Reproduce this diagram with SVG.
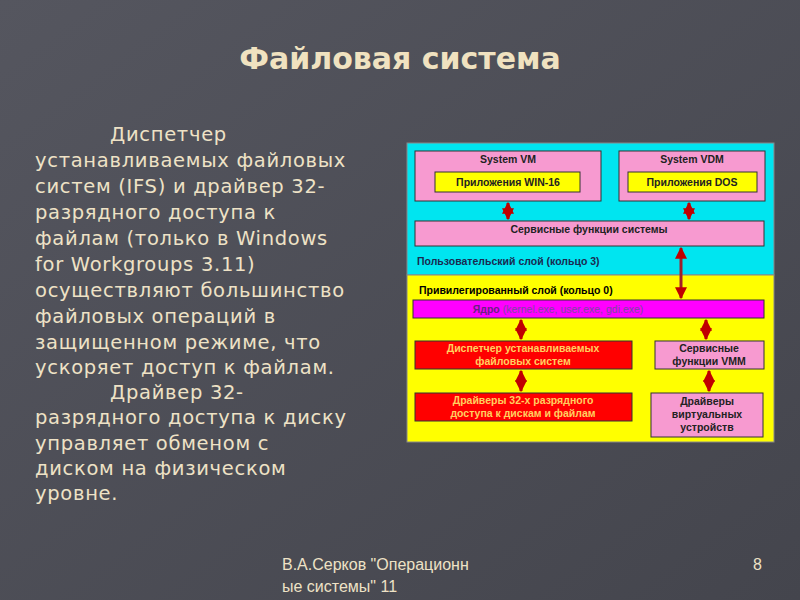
<svg xmlns="http://www.w3.org/2000/svg" width="800" height="600" viewBox="0 0 800 600">
<defs>
<linearGradient id="bg" x1="0" y1="0" x2="1" y2="1"><stop offset="0" stop-color="#55565f"/><stop offset="1" stop-color="#44454d"/></linearGradient>
<marker id="ah" viewBox="0 0 10 10" refX="9" refY="5" markerWidth="4" markerHeight="4" orient="auto-start-reverse"><path d="M0,0L10,5L0,10z" fill="#c00000"/></marker>
</defs>
<style>
.t{font-family:"DejaVu Sans",Verdana,sans-serif;fill:#eee2c6}
.b{font-family:"Liberation Sans",Arial,sans-serif;font-weight:bold;font-size:10.5px;text-anchor:middle}
.s{text-anchor:start}
.bx{stroke:#333;stroke-width:1}
.c{stroke:#c00000;stroke-width:3;marker-start:url(#ah);marker-end:url(#ah)}
</style>
<rect width="800" height="600" fill="url(#bg)"/>
<text class="t" x="400" y="69" font-size="30" font-weight="bold" text-anchor="middle" style="fill:#f0e2c0">Файловая система</text>
<g class="t" font-size="19.5" letter-spacing="0.7">
<text x="110" y="141">Диспетчер</text>
<text x="35" y="167">устанавливаемых файловых</text>
<text x="35" y="193">систем (IFS) и драйвер 32-</text>
<text x="35" y="219">разрядного доступа к</text>
<text x="35" y="245">файлам (только в Windows</text>
<text x="35" y="271">for Workgroups 3.11)</text>
<text x="35" y="297">осуществляют большинство</text>
<text x="35" y="323">файловых операций в</text>
<text x="35" y="349">защищенном режиме, что</text>
<text x="35" y="374">ускоряет доступ к файлам.</text>
<text x="110" y="399">Драйвер 32-</text>
<text x="35" y="424">разрядного доступа к диску</text>
<text x="35" y="450">управляет обменом с</text>
<text x="35" y="475">диском на физическом</text>
<text x="35" y="500">уровне.</text>
</g>
<g class="t" font-size="16" style="font-family:'Liberation Sans',Arial,sans-serif">
<text x="282" y="570">В.А.Серков "Операционн</text>
<text x="282" y="592">ые системы" 11</text>
<text x="753" y="570">8</text>
</g>
<g id="layers">
<rect x="407" y="143" width="367" height="132" fill="#00e5f0" stroke="#888"/>
<rect x="407" y="275" width="367" height="167" fill="#ffff00" stroke="#888"/>
<text class="b s" x="417" y="265" fill="#1a2a50">Пользовательский слой (кольцо 3)</text>
<text class="b s" x="419" y="294" fill="#000">Привилегированный слой (кольцо 0)</text>
</g>
<g id="sysvm"><rect class="bx" x="415" y="151" width="186" height="50" fill="#f79ad0"/><text class="b" x="508" y="163" fill="#222">System VM</text>
<rect class="bx" x="435" y="172" width="145" height="20" fill="#ffff00"/><text class="b" x="508" y="186" fill="#222">Приложения WIN-16</text></g>
<g id="sysvdm"><rect class="bx" x="619" y="151" width="146" height="50" fill="#f79ad0"/><text class="b" x="692" y="163" fill="#222">System VDM</text>
<rect class="bx" x="628" y="172" width="129" height="20" fill="#ffff00"/><text class="b" x="692" y="186" fill="#222">Приложения DOS</text></g>
<g id="services"><rect class="bx" x="415" y="221" width="349" height="25" fill="#f79ad0"/><text class="b" x="589" y="233" fill="#222">Сервисные функции системы</text></g>
<g id="kernel"><rect class="bx" x="413" y="300" width="351" height="18" fill="#ff00ff"/><text class="b" x="558" y="313" fill="#7a48a0" style="font-weight:normal"><tspan fill="#6a2080" style="font-weight:bold">Ядро</tspan> (kernel.exe, user.exe, gdi.exe)</text></g>
<g id="ifs"><rect class="bx" x="415" y="341" width="217" height="28" fill="#ff0000"/><text class="b" x="523" y="352" fill="#ffd060">Диспетчер устанавливаемых</text><text class="b" x="523" y="365" fill="#ffd060">файловых систем</text></g>
<g id="vmm"><rect class="bx" x="655" y="341" width="109" height="28" fill="#f79ad0"/><text class="b" x="709" y="352" fill="#222">Сервисные</text><text class="b" x="709" y="365" fill="#222">функции VMM</text></g>
<g id="drv"><rect class="bx" x="415" y="393" width="217" height="28" fill="#ff0000"/><text class="b" x="523" y="404" fill="#ffd060">Драйверы 32-х разрядного</text><text class="b" x="523" y="417" fill="#ffd060">доступа к дискам и файлам</text></g>
<g id="vdrv"><rect class="bx" x="651" y="393" width="112" height="44" fill="#f79ad0"/><text class="b" x="707" y="405" fill="#222">Драйверы</text><text class="b" x="707" y="418" fill="#222">виртуальных</text><text class="b" x="707" y="431" fill="#222">устройств</text></g>
<g id="connectors">
<line class="c" x1="508" y1="203" x2="508" y2="219"/>
<line class="c" x1="689" y1="203" x2="689" y2="219"/>
<line class="c" x1="681" y1="248" x2="681" y2="298" style="stroke:#a0202a"/>
<line class="c" x1="521" y1="320" x2="521" y2="339"/>
<line class="c" x1="706" y1="320" x2="706" y2="339"/>
<line class="c" x1="521" y1="371" x2="521" y2="391"/>
<line class="c" x1="709" y1="371" x2="709" y2="391"/>
</g>
</svg>
